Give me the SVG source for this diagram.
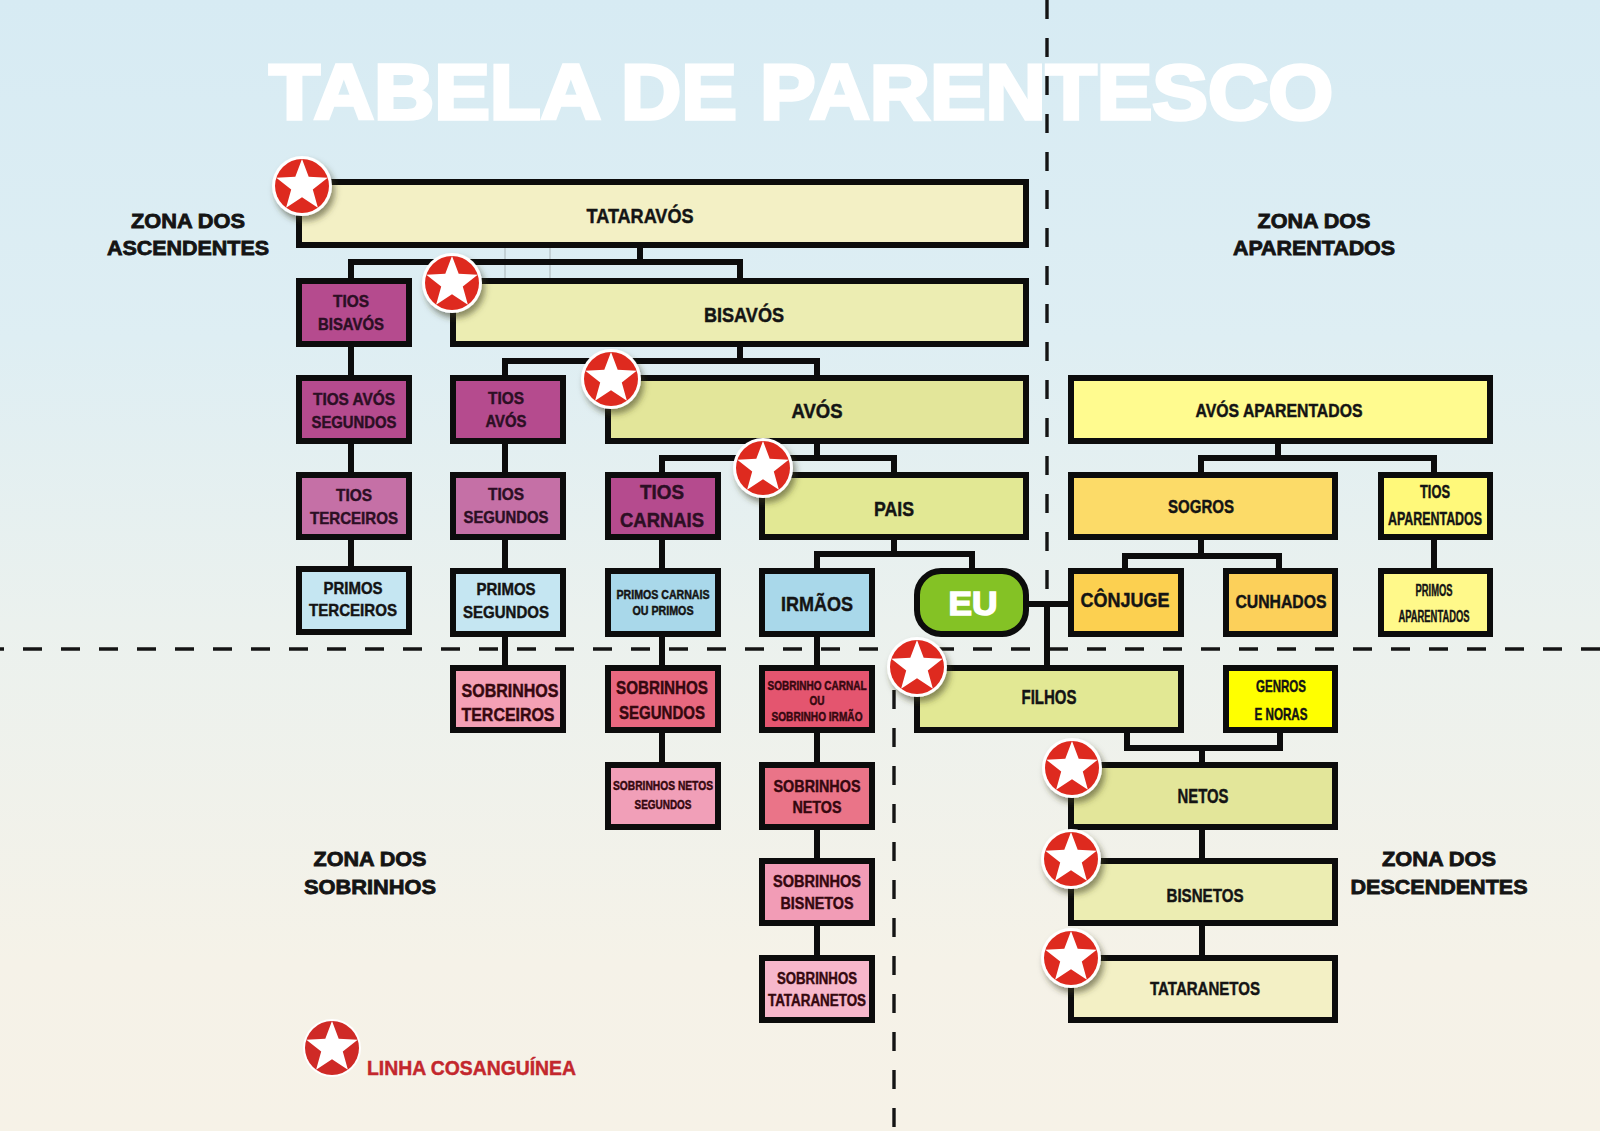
<svg xmlns="http://www.w3.org/2000/svg" xmlns:xlink="http://www.w3.org/1999/xlink" width="1600" height="1131" viewBox="0 0 1600 1131">
<style>
text{font-family:"Liberation Sans",Arial,sans-serif;font-weight:700;text-anchor:middle;fill:#141414;stroke:#141414;stroke-width:.45}
.b{stroke:#0c0c0c;stroke-width:6}
.c{fill:none;stroke:#0c0c0c;stroke-width:6}
.d{fill:none;stroke:#141414;stroke-width:3.4;stroke-dasharray:19 19}
.p text{fill:#2c0f24;stroke:#2c0f24}
.r text{fill:#35080f;stroke:#35080f}
.z{font-size:20px;stroke-width:.8}
</style>
<defs>
<linearGradient id="bg" x1="0" y1="0" x2="0" y2="1">
<stop offset="0" stop-color="#d7ebf3"/><stop offset=".3" stop-color="#deeef3"/><stop offset=".55" stop-color="#ebf1ee"/><stop offset=".85" stop-color="#f5f2e8"/><stop offset="1" stop-color="#f6f2e7"/>
</linearGradient>
<filter id="sh" x="-30%" y="-30%" width="170%" height="170%"><feDropShadow dx="3" dy="5" stdDeviation="3" flood-color="#3a3a1a" flood-opacity=".55"/></filter>
<g id="star">
<circle r="30" fill="#fff" filter="url(#sh)"/><circle r="27" fill="#de2a1f"/>
<polygon fill="#fff" points="0,-27 6.7,-9.2 25.7,-8.3 10.8,3.5 15.9,21.8 0,11.3 -15.9,21.8 -10.8,3.5 -25.7,-8.3 -6.7,-9.2"/>
</g>
</defs>
<rect width="1600" height="1131" fill="url(#bg)"/>
<text id="title" x="801" y="119" font-size="78" textLength="1064" lengthAdjust="spacingAndGlyphs" style="fill:#fff;stroke:#fff;stroke-width:3.5">TABELA DE PARENTESCO</text>
<g id="zones">
<text class="z" x="188" y="228" textLength="114" lengthAdjust="spacingAndGlyphs">ZONA DOS</text>
<text class="z" x="188" y="255" textLength="162" lengthAdjust="spacingAndGlyphs">ASCENDENTES</text>
<text class="z" x="1314" y="228" textLength="113" lengthAdjust="spacingAndGlyphs">ZONA DOS</text>
<text class="z" x="1314" y="255" textLength="162" lengthAdjust="spacingAndGlyphs">APARENTADOS</text>
<text class="z" x="370" y="866" textLength="113" lengthAdjust="spacingAndGlyphs">ZONA DOS</text>
<text class="z" x="370" y="894" textLength="132" lengthAdjust="spacingAndGlyphs">SOBRINHOS</text>
<text class="z" x="1439" y="866" textLength="114" lengthAdjust="spacingAndGlyphs">ZONA DOS</text>
<text class="z" x="1439" y="894" textLength="177" lengthAdjust="spacingAndGlyphs">DESCENDENTES</text>
</g>
<g id="dividers">
<path class="d" d="M1047 0V649"/>
<path class="d" d="M-15 649H1600"/>
<path class="d" d="M894 690V1131"/>
</g>
<g id="connectors">
<path d="M505 247V278M550 247V278" fill="none" stroke="#a9b4b8" stroke-width="1"/>
<path class="c" d="M640 247V262M351 278V262H740V278"/>
<path class="c" d="M351 347V566M351 375V472"/>
<path class="c" d="M740 347V361M505 375V361H817V375"/>
<path class="c" d="M505 443V665"/>
<path class="c" d="M817 443V458M662 472V458H894V472"/>
<path class="c" d="M662 540V762"/>
<path class="c" d="M894 540V554M817 568V554H972V568"/>
<path class="c" d="M817 637V955"/>
<path class="c" d="M1029 604H1068M1047 604V665"/>
<path class="c" d="M1127 733V748H1280V733M1202 748V955"/>
<path class="c" d="M1278 443V458M1201 472V458H1434V472"/>
<path class="c" d="M1201 540V556M1125 568V556H1279V568"/>
<path class="c" d="M1434 540V568"/>
</g>
<g id="tataravos"><rect class="b" x="299" y="182" width="727" height="63" fill="#f3f0c5"/><text x="640" y="223" font-size="20" textLength="107" lengthAdjust="spacingAndGlyphs">TATARAVÓS</text><use xlink:href="#star" href="#star" x="302" y="186"/></g>
<g id="tios-bisavos" class="p"><rect class="b" x="299" y="281" width="110" height="63" fill="#b54b8e"/><text x="351" y="307" font-size="17" textLength="36" lengthAdjust="spacingAndGlyphs">TIOS</text><text x="351" y="330" font-size="17" textLength="66" lengthAdjust="spacingAndGlyphs">BISAVÓS</text></g>
<g id="bisavos"><rect class="b" x="453" y="281" width="573" height="63" fill="#ecedb2"/><text x="744" y="322" font-size="20" textLength="80" lengthAdjust="spacingAndGlyphs">BISAVÓS</text><use xlink:href="#star" href="#star" x="452" y="283"/></g>
<g id="tios-avos-segundos" class="p"><rect class="b" x="299" y="378" width="110" height="63" fill="#b54b8e"/><text x="354" y="405" font-size="17" textLength="82" lengthAdjust="spacingAndGlyphs">TIOS AVÓS</text><text x="354" y="428" font-size="17" textLength="85" lengthAdjust="spacingAndGlyphs">SEGUNDOS</text></g>
<g id="tios-avos" class="p"><rect class="b" x="453" y="378" width="110" height="63" fill="#b54b8e"/><text x="506" y="404" font-size="17" textLength="36" lengthAdjust="spacingAndGlyphs">TIOS</text><text x="506" y="427" font-size="17" textLength="41" lengthAdjust="spacingAndGlyphs">AVÓS</text></g>
<g id="avos"><rect class="b" x="608" y="378" width="418" height="63" fill="#e3e69a"/><text x="817" y="418" font-size="20" textLength="51" lengthAdjust="spacingAndGlyphs">AVÓS</text><use xlink:href="#star" href="#star" x="611" y="379"/></g>
<g id="avos-aparentados"><rect class="b" x="1071" y="378" width="419" height="63" fill="#fffb8f"/><text x="1279" y="417" font-size="19" textLength="167" lengthAdjust="spacingAndGlyphs">AVÓS APARENTADOS</text></g>
<g id="tios-terceiros" class="p"><rect class="b" x="299" y="475" width="110" height="62" fill="#c570a6"/><text x="354" y="501" font-size="17" textLength="36" lengthAdjust="spacingAndGlyphs">TIOS</text><text x="354" y="524" font-size="17" textLength="88" lengthAdjust="spacingAndGlyphs">TERCEIROS</text></g>
<g id="tios-segundos" class="p"><rect class="b" x="453" y="475" width="110" height="62" fill="#c570a6"/><text x="506" y="500" font-size="17" textLength="36" lengthAdjust="spacingAndGlyphs">TIOS</text><text x="506" y="523" font-size="17" textLength="85" lengthAdjust="spacingAndGlyphs">SEGUNDOS</text></g>
<g id="tios-carnais" class="p"><rect class="b" x="608" y="475" width="110" height="62" fill="#b54b8e"/><text x="662" y="499" font-size="20" textLength="44" lengthAdjust="spacingAndGlyphs">TIOS</text><text x="662" y="527" font-size="20" textLength="84" lengthAdjust="spacingAndGlyphs">CARNAIS</text></g>
<g id="pais"><rect class="b" x="762" y="475" width="264" height="62" fill="#e2e894"/><text x="894" y="516" font-size="20" textLength="40" lengthAdjust="spacingAndGlyphs">PAIS</text><use xlink:href="#star" href="#star" x="763" y="468"/></g>
<g id="sogros"><rect class="b" x="1071" y="475" width="264" height="62" fill="#fcdb68"/><text x="1201" y="513" font-size="19" textLength="66" lengthAdjust="spacingAndGlyphs">SOGROS</text></g>
<g id="tios-aparentados"><rect class="b" x="1381" y="475" width="109" height="62" fill="#fff97a"/><text x="1435" y="498" font-size="18" textLength="30" lengthAdjust="spacingAndGlyphs">TIOS</text><text x="1435" y="525" font-size="18" textLength="94" lengthAdjust="spacingAndGlyphs">APARENTADOS</text></g>
<g id="primos-terceiros"><rect class="b" x="299" y="569" width="110" height="63" fill="#c5e6f2"/><text x="353" y="594" font-size="17" textLength="59" lengthAdjust="spacingAndGlyphs">PRIMOS</text><text x="353" y="616" font-size="17" textLength="88" lengthAdjust="spacingAndGlyphs">TERCEIROS</text></g>
<g id="primos-segundos"><rect class="b" x="453" y="571" width="110" height="63" fill="#c5e6f2"/><text x="506" y="595" font-size="17" textLength="59" lengthAdjust="spacingAndGlyphs">PRIMOS</text><text x="506" y="618" font-size="17" textLength="86" lengthAdjust="spacingAndGlyphs">SEGUNDOS</text></g>
<g id="primos-carnais"><rect class="b" x="608" y="571" width="110" height="63" fill="#a9d8ea"/><text x="663" y="599" font-size="12" textLength="93" lengthAdjust="spacingAndGlyphs">PRIMOS CARNAIS</text><text x="663" y="615" font-size="12" textLength="61" lengthAdjust="spacingAndGlyphs">OU PRIMOS</text></g>
<g id="irmaos"><rect class="b" x="762" y="571" width="110" height="63" fill="#a9d8ea"/><text x="817" y="611" font-size="21" textLength="72" lengthAdjust="spacingAndGlyphs">IRMÃOS</text></g>
<g id="eu"><rect class="b" x="917" y="571" width="109" height="63" rx="24" fill="#84c225"/><text x="973" y="615" font-size="34" textLength="49" lengthAdjust="spacingAndGlyphs" style="fill:#fff;stroke:#fff;stroke-width:1.6">EU</text></g>
<g id="conjuge"><rect class="b" x="1071" y="571" width="110" height="63" fill="#fcd050"/><text x="1125" y="607" font-size="21" textLength="89" lengthAdjust="spacingAndGlyphs">CÔNJUGE</text></g>
<g id="cunhados"><rect class="b" x="1226" y="571" width="109" height="63" fill="#fcd05a"/><text x="1281" y="608" font-size="19" textLength="91" lengthAdjust="spacingAndGlyphs">CUNHADOS</text></g>
<g id="primos-aparentados"><rect class="b" x="1381" y="571" width="109" height="63" fill="#fff98a"/><text x="1434" y="596" font-size="16" textLength="37" lengthAdjust="spacingAndGlyphs">PRIMOS</text><text x="1434" y="622" font-size="16" textLength="71" lengthAdjust="spacingAndGlyphs">APARENTADOS</text></g>
<g id="sobrinhos-terceiros" class="r"><rect class="b" x="453" y="668" width="110" height="62" fill="#f4a0b5"/><text x="510" y="697" font-size="18" textLength="97" lengthAdjust="spacingAndGlyphs">SOBRINHOS</text><text x="508" y="721" font-size="18" textLength="93" lengthAdjust="spacingAndGlyphs">TERCEIROS</text></g>
<g id="sobrinhos-segundos" class="r"><rect class="b" x="608" y="668" width="110" height="62" fill="#e8687f"/><text x="662" y="694" font-size="19" textLength="92" lengthAdjust="spacingAndGlyphs">SOBRINHOS</text><text x="662" y="719" font-size="19" textLength="86" lengthAdjust="spacingAndGlyphs">SEGUNDOS</text></g>
<g id="sobrinho-carnal" class="r"><rect class="b" x="762" y="668" width="110" height="62" fill="#e4556f"/><text x="817" y="690" font-size="12" textLength="99" lengthAdjust="spacingAndGlyphs">SOBRINHO CARNAL</text><text x="817" y="705" font-size="12" textLength="15" lengthAdjust="spacingAndGlyphs">OU</text><text x="817" y="721" font-size="12" textLength="91" lengthAdjust="spacingAndGlyphs">SOBRINHO IRMÃO</text></g>
<g id="filhos"><rect class="b" x="917" y="668" width="264" height="62" fill="#e2e894"/><text x="1049" y="704" font-size="20" textLength="55" lengthAdjust="spacingAndGlyphs">FILHOS</text><use xlink:href="#star" href="#star" x="917" y="667"/></g>
<g id="genros"><rect class="b" x="1226" y="668" width="109" height="62" fill="#ffff00"/><text x="1281" y="692" font-size="17" textLength="50" lengthAdjust="spacingAndGlyphs">GENROS</text><text x="1281" y="720" font-size="17" textLength="53" lengthAdjust="spacingAndGlyphs">E NORAS</text></g>
<g id="sobrinhos-netos-segundos" class="r"><rect class="b" x="608" y="765" width="110" height="62" fill="#f19fb8"/><text x="663" y="790" font-size="12.5" textLength="100" lengthAdjust="spacingAndGlyphs">SOBRINHOS NETOS</text><text x="663" y="809" font-size="12.5" textLength="57" lengthAdjust="spacingAndGlyphs">SEGUNDOS</text></g>
<g id="sobrinhos-netos" class="r"><rect class="b" x="762" y="765" width="110" height="62" fill="#ea7488"/><text x="817" y="792" font-size="17" textLength="87" lengthAdjust="spacingAndGlyphs">SOBRINHOS</text><text x="817" y="813" font-size="17" textLength="49" lengthAdjust="spacingAndGlyphs">NETOS</text></g>
<g id="netos"><rect class="b" x="1071" y="765" width="264" height="62" fill="#e3e69a"/><text x="1203" y="803" font-size="20" textLength="51" lengthAdjust="spacingAndGlyphs">NETOS</text><use xlink:href="#star" href="#star" x="1072" y="768"/></g>
<g id="sobrinhos-bisnetos" class="r"><rect class="b" x="762" y="861" width="110" height="62" fill="#f29cb6"/><text x="817" y="887" font-size="16" textLength="88" lengthAdjust="spacingAndGlyphs">SOBRINHOS</text><text x="817" y="909" font-size="16" textLength="73" lengthAdjust="spacingAndGlyphs">BISNETOS</text></g>
<g id="bisnetos"><rect class="b" x="1071" y="861" width="264" height="62" fill="#ecedb2"/><text x="1205" y="902" font-size="19" textLength="77" lengthAdjust="spacingAndGlyphs">BISNETOS</text><use xlink:href="#star" href="#star" x="1071" y="859"/></g>
<g id="sobrinhos-tataranetos" class="r"><rect class="b" x="762" y="958" width="110" height="62" fill="#f7b7cb"/><text x="817" y="984" font-size="16" textLength="80" lengthAdjust="spacingAndGlyphs">SOBRINHOS</text><text x="817" y="1006" font-size="16" textLength="98" lengthAdjust="spacingAndGlyphs">TATARANETOS</text></g>
<g id="tataranetos"><rect class="b" x="1071" y="958" width="264" height="62" fill="#f3f0c5"/><text x="1205" y="995" font-size="19" textLength="110" lengthAdjust="spacingAndGlyphs">TATARANETOS</text><use xlink:href="#star" href="#star" x="1071" y="958"/></g>
<g id="legend">
<circle cx="332" cy="1048" r="29" fill="#fff"/><circle cx="332" cy="1048" r="27" fill="#cf2a26"/>
<polygon fill="#fff" transform="translate(332 1048)" points="0,-27 6.7,-9.2 25.7,-8.3 10.8,3.5 15.9,21.8 0,11.3 -15.9,21.8 -10.8,3.5 -25.7,-8.3 -6.7,-9.2"/>
<text x="471.5" y="1075" font-size="20" textLength="209" lengthAdjust="spacingAndGlyphs" style="fill:#c3272d;stroke:#c3272d">LINHA COSANGUÍNEA</text>
</g>
</svg>
